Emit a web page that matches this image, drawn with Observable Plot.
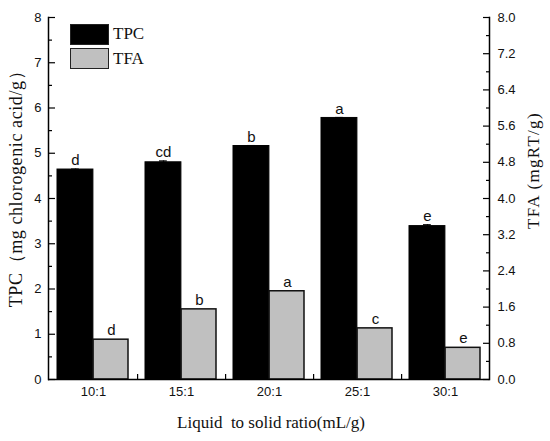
<!DOCTYPE html>
<html><head><meta charset="utf-8">
<script src="https://cdn.jsdelivr.net/npm/d3@7"></script>
<script src="https://cdn.jsdelivr.net/npm/@observablehq/plot@0.6"></script>
<style>
body{margin:0;background:#fff}
#wrap{position:relative;width:550px;height:441px}
.legend{position:absolute;left:70px;top:22px;font-family:"Liberation Serif",serif;font-size:17px;color:#111}
.row{display:flex;align-items:center;height:24.5px}
.sw{width:39px;height:21px;border:1.3px solid #222;box-sizing:border-box;margin-right:4px}
</style></head>
<body><div id="wrap"></div>
<script>
const ratios = ["10:1","15:1","20:1","25:1","30:1"];
const tpc = [4.64, 4.80, 5.16, 5.78, 3.39];
const tpcErr = [0.01, 0.03, 0.01, 0.01, 0.03];
const tfa = [0.88, 1.55, 1.95, 1.13, 0.70];
const tfaErr = [0.01, 0.01, 0.01, 0.01, 0.01];
const tpcLetters = ["d","cd","b","a","e"];
const tfaLetters = ["d","b","a","c","e"];
const leftTicks = [0,1,2,3,4,5,6,7,8];
const leftMinor = [0.5,1.5,2.5,3.5,4.5,5.5,6.5,7.5];
const rightTicks = [0,0.8,1.6,2.4,3.2,4.0,4.8,5.6,6.4,7.2,8.0];
const rightMinor = [0.4,1.2,2.0,2.8,3.6,4.4,5.2,6.0,6.8,7.6];
const seriesNames = ["TPC","TFA"];
const seriesFills = ["#000000","#c0c0c0"];
const xTitle = "Liquid  to solid ratio(mL/g)";
const yTitle = "TPC（mg chlorogenic acid/g）";
const y2Title = "TFA (mgRT/g)";

const tpcRows = ratios.map((r,i)=>({ratio:r, value:tpc[i], err:tpcErr[i], letter:tpcLetters[i]}));
const tfaRows = ratios.map((r,i)=>({ratio:r, value:tfa[i], err:tfaErr[i], letter:tfaLetters[i]}));

const W=550,H=441,ML=48,MR=61,MT=17,MB=62;
const band=(W-ML-MR)/ratios.length;
const off=18;
const serif='"Liberation Serif", serif';
const ink="#111";
const tickOpts = {fill:"none", label:null, stroke:"#000", strokeWidth:1.2};
const textOpts = {stroke:"none", label:null, tickSize:0, fontSize:13, fill:ink};

const chart = Plot.plot({
  width:W, height:H, marginLeft:ML, marginRight:MR, marginTop:MT, marginBottom:MB,
  x:{domain:ratios, padding:0, axis:null},
  y:{domain:[0,8], axis:null},
  style:{fontFamily:'"Liberation Sans", Arial, sans-serif', background:"white", color:ink},
  marks:[
    Plot.barY(tpcRows,{x:"ratio", y:"value", fill:seriesFills[0], stroke:"#000", strokeWidth:1, insetLeft:8, insetRight:band/2}),
    Plot.barY(tfaRows,{x:"ratio", y:"value", fill:seriesFills[1], stroke:"#111", strokeWidth:1.5, insetLeft:band/2, insetRight:9}),
    Plot.ruleX(tpcRows,{x:"ratio", y1:"value", y2:d=>d.value+d.err, dx:-off, stroke:"#000", strokeWidth:1.2}),
    Plot.tickY(tpcRows,{x:"ratio", y:d=>d.value+d.err, insetLeft:22, insetRight:band-30, stroke:"#000", strokeWidth:1.2}),
    Plot.text(tpcRows,{x:"ratio", y:d=>d.value+d.err, text:"letter", dx:-off, dy:-4, lineAnchor:"bottom", fontSize:15, fill:ink}),
    Plot.text(tfaRows,{x:"ratio", y:d=>d.value+d.err, text:"letter", dx:off, dy:-4, lineAnchor:"bottom", fontSize:15, fill:ink}),
    Plot.ruleY([0],{stroke:"#000", strokeWidth:1.5}),
    Plot.frame({anchor:"left", stroke:"#000", strokeWidth:1.5}),
    Plot.frame({anchor:"right", stroke:"#000", strokeWidth:1.5}),
    Plot.axisY({anchor:"left", ticks:leftTicks, tickSize:-7, ...tickOpts}),
    Plot.axisY({anchor:"left", ticks:leftMinor, tickSize:-4, ...tickOpts}),
    Plot.axisY({anchor:"right", ticks:rightTicks, tickSize:-7, ...tickOpts}),
    Plot.axisY({anchor:"right", ticks:rightMinor, tickSize:-4, ...tickOpts}),
    Plot.axisX({anchor:"bottom", ticks:ratios.slice(0,4), tickSize:-5, dx:band/2, ...tickOpts}),
    Plot.axisY({anchor:"left", ticks:leftTicks, tickPadding:7, ...textOpts}),
    Plot.axisY({anchor:"right", ticks:rightTicks, tickFormat:d3.format(".1f"), tickPadding:8, ...textOpts}),
    Plot.axisX({anchor:"bottom", tickPadding:7, ...textOpts}),
    Plot.text([xTitle],{frameAnchor:"bottom", textAnchor:"middle", text:d=>d, dy:48, dx:2, fontFamily:serif, fontSize:17, fill:ink}),
    Plot.text([yTitle],{frameAnchor:"left", textAnchor:"middle", text:d=>d, rotate:-90, dx:-32, dy:-14, fontFamily:serif, fontSize:18, fill:ink}),
    Plot.text([y2Title],{frameAnchor:"right", textAnchor:"middle", text:d=>d, rotate:-90, dx:44, dy:-28, fontFamily:serif, fontSize:17, fill:ink})
  ]
});
d3.select(chart).selectAll("text").filter(function(){return this.textContent===y2Title;}).attr("letter-spacing","1.3");
d3.select(chart).selectAll("text").filter(function(){return this.textContent===yTitle;}).attr("letter-spacing","0.6");
const wrap=document.getElementById("wrap");
wrap.appendChild(chart);
const lg=document.createElement("div");
lg.className="legend";
seriesNames.forEach((n,i)=>{
  const row=document.createElement("div"); row.className="row";
  const sw=document.createElement("div"); sw.className="sw"; sw.style.background=seriesFills[i];
  const t=document.createElement("span"); t.textContent=n;
  row.appendChild(sw); row.appendChild(t); lg.appendChild(row);
});
wrap.appendChild(lg);
</script>
</body></html>
